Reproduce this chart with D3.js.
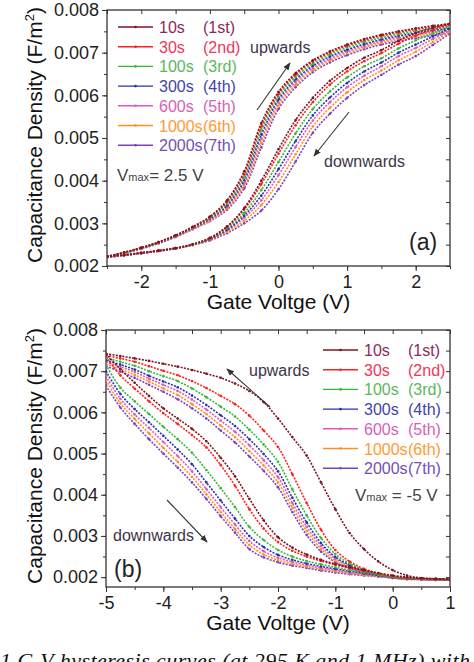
<!DOCTYPE html>
<html>
<head>
<meta charset="utf-8">
<script src="https://cdn.jsdelivr.net/npm/d3@7"></script>
<style>
  body { margin: 0; background: #fff; }
  .axis path, .axis line { stroke: #333; }
  .axis text { font-family: "Liberation Sans", Arial, sans-serif; font-size: 18px; fill: #222; }
</style>
</head>
<body>
<div id="chart"></div>
<script>
// sweep durations and their order in the series
var sweepTimes = ["10s", "30s", "100s", "300s", "600s", "1000s", "2000s"];
var sweepOrder = ["(1st)", "(2nd)", "(3rd)", "(4th)", "(5th)", "(6th)", "(7th)"];

// panel (a): Vmax = 2.5 V
var voltsA = [-2.5, -2.25, -2, -1.75, -1.5, -1.25, -1, -0.75, -0.5, -0.25, 0, 0.25, 0.5, 0.75, 1, 1.25, 1.5, 1.75, 2, 2.25, 2.5];
var upA = [
  [0.00222,0.00232,0.00243,0.00256,0.00272,0.00292,0.00316,0.00354,0.00422,0.00535,0.00608,0.00652,0.00682,0.00703,0.00719,0.00732,0.00742,0.00750,0.00757,0.00763,0.00768],
  [0.00222,0.00232,0.00243,0.00256,0.00272,0.00291,0.00314,0.00350,0.00415,0.00527,0.00603,0.00648,0.00679,0.00700,0.00716,0.00729,0.00739,0.00747,0.00754,0.00760,0.00765],
  [0.00222,0.00231,0.00242,0.00255,0.00271,0.00290,0.00312,0.00346,0.00408,0.00518,0.00597,0.00643,0.00674,0.00696,0.00712,0.00725,0.00735,0.00743,0.00750,0.00756,0.00761],
  [0.00221,0.00231,0.00242,0.00254,0.00270,0.00289,0.00310,0.00342,0.00401,0.00508,0.00590,0.00637,0.00669,0.00691,0.00707,0.00720,0.00731,0.00739,0.00746,0.00752,0.00757],
  [0.00221,0.00231,0.00241,0.00254,0.00269,0.00288,0.00308,0.00338,0.00394,0.00498,0.00583,0.00631,0.00664,0.00686,0.00703,0.00716,0.00727,0.00735,0.00742,0.00748,0.00753],
  [0.00221,0.00230,0.00241,0.00253,0.00268,0.00287,0.00306,0.00335,0.00388,0.00488,0.00576,0.00625,0.00659,0.00682,0.00699,0.00712,0.00723,0.00731,0.00738,0.00744,0.00749],
  [0.00220,0.00230,0.00240,0.00253,0.00268,0.00286,0.00305,0.00332,0.00382,0.00478,0.00568,0.00619,0.00654,0.00677,0.00694,0.00708,0.00719,0.00727,0.00734,0.00740,0.00745]
];
var downA = [
  [0.00222,0.00226,0.00231,0.00236,0.00242,0.00251,0.00266,0.00293,0.00336,0.00400,0.00474,0.00542,0.00594,0.00634,0.00664,0.00688,0.00706,0.00728,0.00746,0.00758,0.00768],
  [0.00222,0.00226,0.00231,0.00236,0.00242,0.00251,0.00265,0.00291,0.00332,0.00392,0.00463,0.00530,0.00584,0.00625,0.00656,0.00680,0.00699,0.00721,0.00740,0.00753,0.00765],
  [0.00221,0.00226,0.00231,0.00236,0.00242,0.00250,0.00264,0.00288,0.00324,0.00378,0.00444,0.00511,0.00568,0.00609,0.00642,0.00668,0.00687,0.00710,0.00729,0.00745,0.00761],
  [0.00221,0.00225,0.00230,0.00235,0.00241,0.00250,0.00263,0.00285,0.00318,0.00365,0.00427,0.00493,0.00553,0.00595,0.00629,0.00656,0.00677,0.00700,0.00719,0.00738,0.00757],
  [0.00221,0.00225,0.00230,0.00235,0.00241,0.00250,0.00262,0.00283,0.00313,0.00354,0.00413,0.00479,0.00541,0.00584,0.00619,0.00646,0.00668,0.00692,0.00711,0.00732,0.00753],
  [0.00220,0.00225,0.00230,0.00235,0.00241,0.00249,0.00261,0.00280,0.00306,0.00343,0.00397,0.00462,0.00527,0.00571,0.00607,0.00636,0.00658,0.00682,0.00702,0.00725,0.00749],
  [0.00220,0.00225,0.00230,0.00235,0.00241,0.00249,0.00260,0.00277,0.00300,0.00330,0.00380,0.00445,0.00512,0.00557,0.00594,0.00624,0.00648,0.00672,0.00692,0.00718,0.00745]
];

// panel (b): Vmax = -5 V
var voltsB = [-5, -4.75, -4.5, -4.25, -4, -3.75, -3.5, -3.25, -3, -2.75, -2.5, -2.25, -2, -1.75, -1.5, -1.25, -1, -0.75, -0.5, -0.25, 0, 0.25, 0.5, 0.75, 1];
var upB = [
  [0.00742,0.00737,0.00731,0.00725,0.00718,0.00711,0.00703,0.00694,0.00684,0.00670,0.00652,0.00625,0.00585,0.00540,0.00495,0.00430,0.00365,0.00307,0.00268,0.00238,0.00217,0.00204,0.00198,0.00196,0.00195],
  [0.00738,0.00731,0.00723,0.00712,0.00701,0.00690,0.00676,0.00659,0.00640,0.00620,0.00592,0.00556,0.00516,0.00450,0.00380,0.00315,0.00266,0.00238,0.00220,0.00209,0.00202,0.00198,0.00196,0.00195,0.00194],
  [0.00732,0.00723,0.00713,0.00700,0.00688,0.00676,0.00658,0.00637,0.00614,0.00590,0.00558,0.00522,0.00480,0.00413,0.00350,0.00295,0.00256,0.00233,0.00217,0.00207,0.00200,0.00197,0.00195,0.00194,0.00194],
  [0.00726,0.00716,0.00704,0.00689,0.00675,0.00661,0.00641,0.00618,0.00593,0.00567,0.00535,0.00499,0.00457,0.00393,0.00333,0.00283,0.00249,0.00229,0.00215,0.00206,0.00199,0.00196,0.00195,0.00194,0.00193],
  [0.00722,0.00711,0.00698,0.00682,0.00667,0.00652,0.00631,0.00607,0.00580,0.00553,0.00520,0.00484,0.00443,0.00380,0.00322,0.00276,0.00245,0.00226,0.00213,0.00205,0.00199,0.00196,0.00194,0.00193,0.00193],
  [0.00717,0.00705,0.00691,0.00675,0.00658,0.00642,0.00620,0.00596,0.00568,0.00540,0.00506,0.00471,0.00430,0.00369,0.00312,0.00269,0.00240,0.00223,0.00211,0.00204,0.00198,0.00195,0.00194,0.00193,0.00193],
  [0.00712,0.00699,0.00684,0.00667,0.00650,0.00632,0.00610,0.00585,0.00556,0.00527,0.00493,0.00458,0.00418,0.00358,0.00302,0.00262,0.00236,0.00221,0.00210,0.00203,0.00198,0.00195,0.00194,0.00193,0.00193]
];
var downB = [
  [0.00742,0.00705,0.00672,0.00640,0.00610,0.00585,0.00560,0.00530,0.00490,0.00445,0.00390,0.00338,0.00297,0.00272,0.00255,0.00242,0.00232,0.00224,0.00217,0.00210,0.00204,0.00200,0.00197,0.00196,0.00195],
  [0.00735,0.00690,0.00658,0.00627,0.00598,0.00572,0.00545,0.00515,0.00472,0.00422,0.00365,0.00318,0.00285,0.00264,0.00250,0.00239,0.00230,0.00222,0.00215,0.00209,0.00203,0.00199,0.00197,0.00195,0.00195],
  [0.00715,0.00660,0.00627,0.00596,0.00565,0.00535,0.00502,0.00460,0.00416,0.00370,0.00322,0.00290,0.00266,0.00250,0.00239,0.00231,0.00224,0.00217,0.00211,0.00206,0.00201,0.00198,0.00196,0.00195,0.00194],
  [0.00700,0.00645,0.00608,0.00576,0.00543,0.00510,0.00474,0.00430,0.00386,0.00342,0.00300,0.00273,0.00254,0.00242,0.00233,0.00226,0.00220,0.00214,0.00209,0.00204,0.00200,0.00197,0.00196,0.00195,0.00194],
  [0.00688,0.00633,0.00595,0.00562,0.00528,0.00494,0.00457,0.00414,0.00370,0.00328,0.00288,0.00263,0.00247,0.00237,0.00229,0.00222,0.00217,0.00211,0.00207,0.00203,0.00199,0.00197,0.00195,0.00194,0.00194],
  [0.00678,0.00622,0.00584,0.00549,0.00514,0.00480,0.00443,0.00401,0.00358,0.00317,0.00278,0.00255,0.00241,0.00232,0.00225,0.00219,0.00214,0.00209,0.00205,0.00202,0.00199,0.00196,0.00195,0.00194,0.00193],
  [0.00665,0.00612,0.00572,0.00535,0.00500,0.00466,0.00430,0.00390,0.00348,0.00308,0.00268,0.00248,0.00236,0.00228,0.00222,0.00216,0.00211,0.00207,0.00204,0.00201,0.00198,0.00196,0.00195,0.00194,0.00194]
];

var ticksY = [0.002, 0.003, 0.004, 0.005, 0.006, 0.007, 0.008];
var ticksXA = [-2, -1, 0, 1, 2];
var ticksXB = [-5, -4, -3, -2, -1, 0, 1];

var lineColors = ["#7d1525", "#ff1f1f", "#35b835", "#2435a8", "#e057c2", "#ff8f1f", "#7b42c0"];
var textColors = ["#8a2a5c", "#f0365a", "#5cb85c", "#3f45a5", "#d562b8", "#ff9a33", "#7150b5"];

var fontSans = '"Liberation Sans", Arial, sans-serif';

var svg = d3.select("#chart").append("svg")
  .attr("width", 474)
  .attr("height", 662);

var defs = svg.append("defs");
defs.append("marker")
  .attr("id", "head")
  .attr("viewBox", "0 0 10 10")
  .attr("refX", 9).attr("refY", 5)
  .attr("markerWidth", 7).attr("markerHeight", 7)
  .attr("orient", "auto")
  .append("path")
  .attr("d", "M0,1 L10,5 L0,9 Z")
  .attr("fill", "#333");

function drawPanel(p) {
  var x = d3.scaleLinear().domain(p.xDomain).range([p.left, p.right]);
  var y = d3.scaleLinear().domain(p.yDomain).range([p.bottom, p.top]);
  var g = svg.append("g");

  defs.append("clipPath").attr("id", p.id + "-clip")
    .append("rect")
    .attr("x", p.left).attr("y", p.top)
    .attr("width", p.right - p.left).attr("height", p.bottom - p.top);

  // minor ticks on every half unit
  var minorX = d3.range(p.xDomain[0], p.xDomain[1] + 0.001, 0.5);
  var minorY = d3.range(0.002, 0.0081, 0.0005).filter(function(v) { return v >= p.yDomain[0]; });

  // bottom and left: outward ticks with labels
  g.append("g").attr("class", "axis")
    .attr("transform", "translate(0," + p.bottom + ")")
    .call(d3.axisBottom(x).tickValues(minorX).tickSize(3).tickFormat(""));
  g.append("g").attr("class", "axis")
    .attr("transform", "translate(0," + p.bottom + ")")
    .call(d3.axisBottom(x).tickValues(p.xTicks).tickSize(5).tickPadding(4).tickFormat(function(d) { return String(d); }));
  g.append("g").attr("class", "axis")
    .attr("transform", "translate(" + p.left + ",0)")
    .call(d3.axisLeft(y).tickValues(minorY).tickSize(3).tickFormat(""));
  g.append("g").attr("class", "axis")
    .attr("transform", "translate(" + p.left + ",0)")
    .call(d3.axisLeft(y).tickValues(ticksY).tickSize(5).tickPadding(3).tickFormat(d3.format(".3f")));

  // top and right: mirrored inward ticks
  g.append("g").attr("class", "axis")
    .attr("transform", "translate(0," + p.top + ")")
    .call(d3.axisTop(x).tickValues(minorX).tickSize(-4).tickFormat(""));
  g.append("g").attr("class", "axis")
    .attr("transform", "translate(" + p.right + ",0)")
    .call(d3.axisRight(y).tickValues(minorY).tickSize(-4).tickFormat(""));
  g.selectAll(".axis .domain").remove();

  g.append("rect")
    .attr("x", p.left).attr("y", p.top)
    .attr("width", p.right - p.left).attr("height", p.bottom - p.top)
    .attr("fill", "none").attr("stroke", "#333").attr("stroke-width", 1.3);

  var line = d3.line()
    .x(function(d) { return x(d[0]); })
    .y(function(d) { return y(d[1]); })
    .curve(d3.curveCatmullRom);

  var plot = g.append("g").attr("clip-path", "url(#" + p.id + "-clip)");
  for (var s = sweepTimes.length - 1; s >= 0; s--) {
    [p.up[s], p.down[s]].forEach(function(vals) {
      var pts = p.volts.map(function(v, i) { return [v, vals[i]]; });
      plot.append("path")
        .datum(pts)
        .attr("d", line)
        .attr("fill", "none")
        .attr("stroke", lineColors[s])
        .attr("stroke-width", 1.6)
        .attr("stroke-dasharray", "2,1.3");
      plot.selectAll(null)
        .data(pts)
        .enter().append("circle")
        .attr("cx", function(d) { return x(d[0]); })
        .attr("cy", function(d) { return y(d[1]); })
        .attr("r", 1.3)
        .attr("fill", lineColors[s]);
    });
  }

  // legend
  sweepTimes.forEach(function(t, i) {
    var ly = p.legend.y + i * 19.7;
    g.append("line")
      .attr("x1", p.legend.x).attr("x2", p.legend.x + 35)
      .attr("y1", ly).attr("y2", ly)
      .attr("stroke", lineColors[i]).attr("stroke-width", 1.4);
    g.append("circle")
      .attr("cx", p.legend.x + 17.5).attr("cy", ly).attr("r", 1.3)
      .attr("fill", lineColors[i]);
    g.append("text")
      .attr("x", p.legend.x + 41).attr("y", ly + 6)
      .style("font-family", fontSans).style("font-size", "16px")
      .attr("fill", textColors[i])
      .text(t);
    g.append("text")
      .attr("x", p.legend.x + 85).attr("y", ly + 6)
      .style("font-family", fontSans).style("font-size", "16px")
      .attr("fill", textColors[i])
      .text(sweepOrder[i]);
  });

  // axis titles
  g.append("text")
    .attr("x", (p.left + p.right) / 2).attr("y", p.bottom + 43)
    .attr("text-anchor", "middle")
    .style("font-family", fontSans).style("font-size", "21px").attr("fill", "#111")
    .text("Gate Voltge (V)");
  var yt = g.append("text")
    .attr("transform", "translate(42," + p.yMid + ") rotate(-90)")
    .attr("text-anchor", "middle")
    .style("font-family", fontSans).style("font-size", "21px").attr("fill", "#111");
  yt.append("tspan").text("Capacitance Density (F/m");
  yt.append("tspan").attr("dy", -8).style("font-size", "13px").text("2");
  yt.append("tspan").attr("dy", 8).text(")");

  // annotations
  p.notes.forEach(function(n) {
    g.append("text")
      .attr("x", n.x).attr("y", n.y)
      .style("font-family", fontSans).style("font-size", "16px").attr("fill", "#3d3448")
      .text(n.text);
  });
  p.arrows.forEach(function(a) {
    g.append("line")
      .attr("x1", a[0]).attr("y1", a[1]).attr("x2", a[2]).attr("y2", a[3])
      .attr("stroke", "#333").attr("stroke-width", 1.1)
      .attr("marker-end", "url(#head)");
  });
  var vm = g.append("text")
    .attr("x", p.vmax.x).attr("y", p.vmax.y)
    .style("font-family", fontSans).style("font-size", "17px").attr("fill", "#444");
  vm.append("tspan").text("V");
  vm.append("tspan").style("font-size", "11px").text("max");
  vm.append("tspan").text(p.vmax.text);

  g.append("text")
    .attr("x", p.tag.x).attr("y", p.tag.y)
    .style("font-family", fontSans).style("font-size", "23px").attr("fill", "#222")
    .text(p.tag.text);
}

drawPanel({
  id: "a", left: 107, right: 450, top: 10, bottom: 266,
  xDomain: [-2.5, 2.5], yDomain: [0.002, 0.008], xTicks: ticksXA,
  volts: voltsA, up: upA, down: downA, yMid: 135,
  legend: { x: 118, y: 27 },
  notes: [{ x: 250, y: 53, text: "upwards" }, { x: 324, y: 167, text: "downwards" }],
  arrows: [[257, 110, 290, 63], [349, 112, 314, 156]],
  vmax: { x: 117, y: 181, text: "= 2.5 V" },
  tag: { x: 409, y: 250, text: "(a)" }
});

drawPanel({
  id: "b", left: 106, right: 450, top: 330, bottom: 587,
  xDomain: [-5, 1], yDomain: [0.00176, 0.008], xTicks: ticksXB,
  volts: voltsB, up: upB, down: downB, yMid: 456,
  legend: { x: 323, y: 350 },
  notes: [{ x: 249, y: 376, text: "upwards" }, { x: 113, y: 541, text: "downwards" }],
  arrows: [[270, 407, 227, 369], [167, 500, 207, 542]],
  vmax: { x: 355, y: 501, text: " = -5 V" },
  tag: { x: 114, y: 577, text: "(b)" }
});

// figure caption, cut off by the bottom edge as in the source
svg.append("text")
  .attr("x", 0).attr("y", 668)
  .attr("textLength", 470).attr("lengthAdjust", "spacing")
  .style("font-family", '"Liberation Serif", "Times New Roman", serif')
  .style("font-style", "italic").style("font-size", "22px").attr("fill", "#111")
  .text("1 C-V hysteresis curves (at 295 K and 1 MHz) with");
</script>
</body>
</html>
